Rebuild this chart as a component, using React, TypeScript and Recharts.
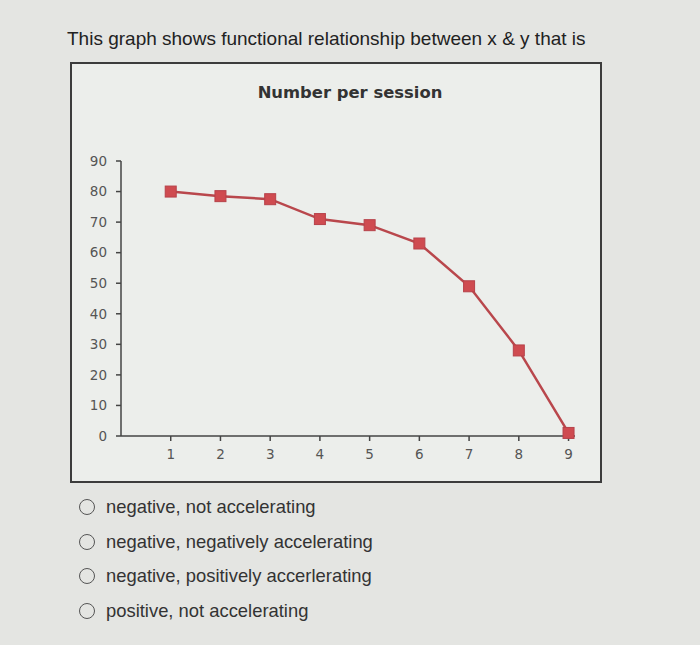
import React from "react"
import { CartesianGrid, Line, LineChart, XAxis, YAxis } from "recharts"

const sessions = [1, 2, 3, 4, 5, 6, 7, 8, 9]
const numberPerSession = [80, 78.5, 77.5, 71, 69, 63, 49, 28, 1]
const yTicks = [0, 10, 20, 30, 40, 50, 60, 70, 80, 90]
const choices = [
  "negative, not accelerating",
  "negative, negatively accelerating",
  "negative, positively accerlerating",
  "positive, not accelerating",
]

const data = sessions.map((s, i) => ({ session: s, value: numberPerSession[i] }))

const SquareDot = (props: any) => {
  const { cx, cy, index } = props
  if (cx == null || cy == null) return null
  return <rect key={"dot-" + index} x={cx - 5.5} y={cy - 5.5} width={11} height={11} fill="#cf4b50" stroke="#b7424a" strokeWidth={1} />
}

const tickStyle = { fill: "#555", fontSize: 13.5, fontFamily: "'DejaVu Sans', sans-serif" }

export default function App() {
  return (
    <div
      style={{
        position: "absolute",
        left: 0,
        top: 0,
        width: 700,
        height: 645,
        background: "#e4e5e2",
        fontFamily: "'Liberation Sans', Arial, sans-serif",
        overflow: "hidden",
      }}
    >
      <div style={{ position: "absolute", left: 67, top: 28, fontSize: 19, color: "#222" }}>
        This graph shows functional relationship between x &amp; y that is
      </div>
      <div
        style={{
          position: "absolute",
          left: 70,
          top: 62,
          width: 532,
          height: 421,
          boxSizing: "border-box",
          border: "2px solid #3c3c3c",
          background: "#eceeeb",
        }}
      >
        {/* title sits a little right of centre, over the plot area */}
        <div
          style={{
            position: "absolute",
            left: 28,
            right: 0,
            top: 19,
            textAlign: "center",
            fontFamily: "'DejaVu Sans', sans-serif",
            fontWeight: "bold",
            fontSize: 16.4,
            color: "#333",
          }}
        >
          Number per session
        </div>
        <LineChart width={528} height={417} data={data} margin={{ top: 97, right: 25, bottom: 15, left: 9 }}>
          <CartesianGrid stroke="none" />
          <XAxis
            dataKey="session"
            type="number"
            domain={[0, 9.13]}
            ticks={sessions}
            allowDataOverflow
            height={30}
            stroke="#444"
            strokeWidth={1.5}
            tickSize={5}
            tickMargin={8}
            tick={tickStyle}
          />
          <YAxis
            type="number"
            domain={[0, 90]}
            ticks={yTicks}
            interval={0}
            width={40}
            stroke="#444"
            strokeWidth={1.5}
            tickSize={5}
            tickMargin={9}
            tick={tickStyle}
          />
          <Line
            dataKey="value"
            type="linear"
            stroke="#b9474c"
            strokeWidth={2.5}
            dot={SquareDot}
            isAnimationActive={false}
          />
        </LineChart>
      </div>
      {choices.map((c, i) => (
        <div
          key={c}
          style={{
            position: "absolute",
            left: 79,
            top: 496 + i * 34.5,
            display: "flex",
            alignItems: "center",
            fontSize: 18.4,
            color: "#333",
          }}
        >
          <span
            style={{
              display: "inline-block",
              width: 14,
              height: 14,
              borderRadius: "50%",
              border: "1.5px solid #555",
              marginRight: 11,
            }}
          />
          <span>{c}</span>
        </div>
      ))}
    </div>
  )
}
